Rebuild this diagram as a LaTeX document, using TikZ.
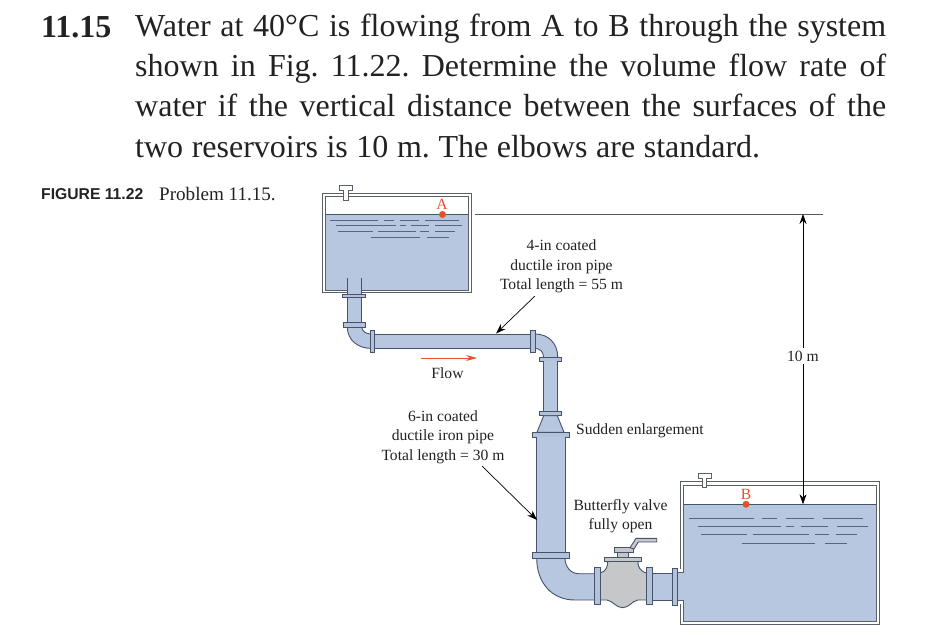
\documentclass[tikz,border=0pt]{standalone}
\usepackage{fontspec}
\setmainfont{Liberation Serif}
\newfontfamily\capsans{Liberation Sans}
\usetikzlibrary{arrows.meta}
\definecolor{wat}{HTML}{B7C7E0}
\definecolor{flg}{HTML}{B2C2DB}
\definecolor{edge}{HTML}{46536A}
\definecolor{wall}{HTML}{5A6068}
\definecolor{rip}{HTML}{56667C}
\definecolor{vgray}{HTML}{C6C7C9}
\definecolor{redo}{HTML}{E4512B}
\definecolor{ink}{HTML}{222222}
\tikzset{
 pipeline/.style={draw=edge,line width=0.9pt},
 flange/.style={draw=edge,line width=0.8pt,fill=flg},
 fillw/.style={fill=wat,draw=none},
 tankwall/.style={draw=wall,line width=1pt},
 ripple/.style={draw=rip,line width=0.8pt},
 lab/.style={inner sep=0pt,font=\fontsize{15.6}{19.5}\selectfont,text=ink,align=center},
 head/.style={inner sep=0pt,anchor=base west,font=\fontsize{32}{40}\selectfont,text=ink},
 thinarrow/.style={draw=black,line width=0.7pt,-{Stealth[length=10pt,width=7pt]}},
 dimline/.style={draw=black!65,line width=0.7pt},
 dot/.style={circle,fill=redo,inner sep=0pt,minimum size=7pt},
 redlab/.style={inner sep=0pt,text=redo,font=\fontsize{15.6}{16}\selectfont},
 capshape/.style={draw=wall,line width=0.9pt,fill=white}
}
\begin{document}
\frenchspacing
\begin{tikzpicture}[x=1pt,y=-1pt]
\useasboundingbox (0,0) rectangle (930,635);
% headline
\node[head,font=\bfseries\fontsize{32}{40}\selectfont] (num) at (41,37) {11.15};
\node[head] (l1) at (135,36.5) {\makebox[751pt][s]{Water at 40°C is flowing from A to B through the system}};
\node[head] (l2) at (135,76.5) {\makebox[751pt][s]{shown in Fig. 11.22. Determine the volume flow rate of}};
\node[head] (l3) at (135,116.5) {\makebox[751pt][s]{water if the vertical distance between the surfaces of the}};
\node[head] (l4) at (135,157) {\makebox[625pt][s]{two reservoirs is 10 m. The elbows are standard.}};
\node[inner sep=0pt,anchor=base west,text=ink,font=\capsans\bfseries\fontsize{15.7}{16}\selectfont] (figc) at (41,199.5) {FIGURE 11.22};
\node[inner sep=0pt,anchor=base west,text=ink,font=\fontsize{19.1}{20}\selectfont] (figd) at (159,200) {Problem 11.15.};
% tank A
\fill[white] (322.7,193) rectangle (471,292.7);
\fill[wat] (325.7,214.3) rectangle (468,290);
\draw[tankwall] (322.7,193) rectangle (471,292.7);
\draw[tankwall] (325.7,196.7) rectangle (468,290);
\draw[pipeline] (325.7,214.3) -- (468,214.3);
\foreach \y/\a/\b in {220/330/377.7,220/384/394,220/400/418.7,220/425.3/459.3,225.3/336/396,225.3/400/406,225.3/410.7/429.3,225.3/435.3/462,231.3/338/373.3,231.3/378/416,231.3/420/429.3,231.3/435.3/454.7,237.3/370.7/420,237.3/427.3/449.3}
  \draw[ripple] (\a,\y) -- (\b,\y);
% tank A cap
\draw[capshape] (343.3,200) -- (343.3,190.3) -- (339.3,190.3) -- (339.3,185.7) -- (352.3,185.7) -- (352.3,190.3) -- (348.3,190.3) -- (348.3,200) -- cycle;
% tank A outlet
\fill[wat] (347.3,278) rectangle (361.7,323);
\draw[pipeline] (347.3,278) -- (347.3,323) (361.7,278) -- (361.7,323);
\node[flange,inner sep=0pt,minimum width=23.7pt,minimum height=3.7pt] (fa1) at (353.85,295.85) {};
% elbow 1
\path[fillw] (347.3,327) .. controls (347.3,340) and (358,348.4) .. (371,348.4) -- (371,334) .. controls (366,334) and (361.7,331) .. (361.7,327) -- cycle;
\draw[pipeline] (347.3,327) .. controls (347.3,340) and (358,348.4) .. (371,348.4);
\draw[pipeline] (361.7,327) .. controls (361.7,331) and (366,334) .. (371,334);
\node[flange,inner sep=0pt,minimum width=22pt,minimum height=4.6pt] (fa2) at (354,325) {};
% horizontal pipe
\fill[wat] (374,334) rectangle (531,348.4);
\draw[pipeline] (374,334) -- (531,334) (374,348.4) -- (531,348.4);
\node[flange,inner sep=0pt,minimum width=4.7pt,minimum height=21.7pt] (fa3) at (372.35,341.2) {};
% elbow 2
\path[fillw] (535,334) .. controls (548,334) and (557.7,343) .. (557.7,357) -- (543.5,357) .. controls (543.5,352) and (540,348.4) .. (535,348.4) -- cycle;
\draw[pipeline] (535,334) .. controls (548,334) and (557.7,343) .. (557.7,357);
\draw[pipeline] (535,348.4) .. controls (540,348.4) and (543.5,352) .. (543.5,357);
\node[flange,inner sep=0pt,minimum width=5.3pt,minimum height=21.7pt] (fa4) at (532.7,341.5) {};
\node[flange,inner sep=0pt,minimum width=21.6pt,minimum height=4.7pt] (fa5) at (550.5,359.3) {};
% small vertical
\fill[wat] (543.7,361) rectangle (557.3,411);
\draw[pipeline] (543.7,361) -- (543.7,411) (557.3,361) -- (557.3,411);
\node[flange,inner sep=0pt,minimum width=21.6pt,minimum height=4.7pt] (fa6) at (550.5,413.3) {};
% reducer
\path[fillw,draw=edge,line width=0.9pt] (543.7,415.7) -- (537,432.3) -- (564,432.3) -- (557.3,415.7) -- cycle;
\node[flange,inner sep=0pt,minimum width=37.4pt,minimum height=5pt] (fa7) at (551,434.8) {};
% big vertical
\fill[wat] (536.7,437.3) rectangle (565,553);
\draw[pipeline] (536.7,437.3) -- (536.7,553) (565,437.3) -- (565,553);
% elbow 3
\path[fillw] (536.7,558) .. controls (536.7,583) and (552,600) .. (575,600) -- (595,600) -- (595,573.7) -- (579,573.7) .. controls (570,573.7) and (565,566) .. (565,558) -- cycle;
\draw[pipeline] (536.7,558) .. controls (536.7,583) and (552,600) .. (575,600) -- (595,600);
\draw[pipeline] (565,558) .. controls (565,566) and (570,573.7) .. (579,573.7) -- (595,573.7);
\node[flange,inner sep=0pt,minimum width=37pt,minimum height=5.6pt] (fa8) at (551.2,555.5) {};
% valve
\draw[pipeline,fill=vgray] (600,573) .. controls (606,572) and (608,566) .. (607.7,561) -- (638,561) .. controls (637.5,566) and (640,572) .. (647,573) -- (647,600) -- (638,600) .. controls (632,601) and (629,607.7) .. (622.7,607.7) .. controls (616,607.7) and (613,601) .. (607,600) -- (600,600) -- cycle;
\draw[pipeline,fill=vgray] (617.7,552) rectangle (628.3,557.7);
\draw[pipeline,fill=vgray] (604.3,557.7) rectangle (641,561.3);
\draw[pipeline,fill=vgray] (614.3,547.7) rectangle (633,552.3);
\draw[pipeline,fill=vgray] (630,547.7) -- (636,538.3) -- (656.7,538.3) -- (656.7,542) -- (638.3,542) -- (634,549) -- cycle;
\node[flange,inner sep=0pt,minimum width=6pt,minimum height=36.6pt] (fv1) at (597.3,586) {};
\node[flange,inner sep=0pt,minimum width=6pt,minimum height=36.6pt] (fv2) at (649.7,586) {};
\fill[wat] (652.7,573.7) rectangle (672.5,600);
\draw[pipeline] (652.7,573.7) -- (672.5,573.7) (652.7,600) -- (672.5,600);
% tank B
\path[fill=white] (680,481.7) rectangle (879.3,624.3);
\fill[wat] (677.5,572.3) rectangle (684,600);
\fill[wat] (683.7,504.3) rectangle (876,621);
\draw[tankwall] (680,569) -- (680,481.7) -- (879.3,481.7) -- (879.3,624.3) -- (680,624.3) -- (680,604);
\draw[tankwall] (677.5,572.3) -- (683.7,572.3) -- (683.7,485) -- (876,485) -- (876,621) -- (683.7,621) -- (683.7,600) -- (677.5,600);
\draw[pipeline] (683.7,504.3) -- (876,504.3);
\node[flange,inner sep=0pt,minimum width=5pt,minimum height=36.7pt] (fb) at (674.8,586.7) {};
\foreach \y/\a/\b in {518.3/689.3/754,518.3/762.3/776.7,518.3/786/814,518.3/822.7/863.3,526/698/781.3,526/786/794,526/800.7/828,526/836.7/868,534.7/700.7/746.7,534.7/752.7/809.3,534.7/814.7/829.3,534.7/836/856.7,543.7/742/815.3,543.7/825/847.3}
  \draw[ripple] (\a,\y) -- (\b,\y);
\draw[capshape] (702.3,487) -- (702.3,478) -- (698.3,478) -- (698.3,473.3) -- (711.3,473.3) -- (711.3,478) -- (706.7,478) -- (706.7,487) -- cycle;
% points
\node[dot] (ptA) at (442.5,214.5) {};
\node[redlab] (labA) at (442,204.5) {A};
\node[dot] (ptB) at (746,504.3) {};
\node[redlab] (labB) at (746,494.5) {B};
% dimensions
\coordinate (dimL) at (475,214);
\coordinate (dimR) at (823,214);
\coordinate (dimT) at (803,214);
\coordinate (dimB) at (803,504.3);
\draw[dimline] (dimL) -- (dimR);
\node[lab,fill=white,inner ysep=3pt] (dim) at (803,356) {10 m};
\draw[thinarrow] (dim) -- (dimT);
\draw[thinarrow] (dim) -- (dimB);
% labels
\node[lab] (t4) at (561.5,266.5) {4-in coated\\ductile iron pipe\\Total length = 55 m};
\node[lab] (t6) at (443,437) {6-in coated\\ductile iron pipe\\Total length = 30 m};
\node[lab] (tflow) at (447.5,373) {Flow};
\node[lab,anchor=west] (tsud) at (576,431) {Sudden enlargement};
\node[lab] (tbut) at (620.5,516) {Butterfly valve\\fully open};
\coordinate (a4) at (496,333.5);
\coordinate (a6) at (537,520);
\coordinate (s4) at (535,296);
\coordinate (s6) at (482,466);
\draw[thinarrow] (s4) -- (a4);
\draw[thinarrow] (s6) -- (a6);
\coordinate (fl1) at (421,358);
\coordinate (fl2) at (477,358);
\draw[draw=redo,line width=0.8pt,-{Stealth[length=11pt,width=6pt]}] (fl1) -- (fl2);
\end{tikzpicture}
\end{document}
